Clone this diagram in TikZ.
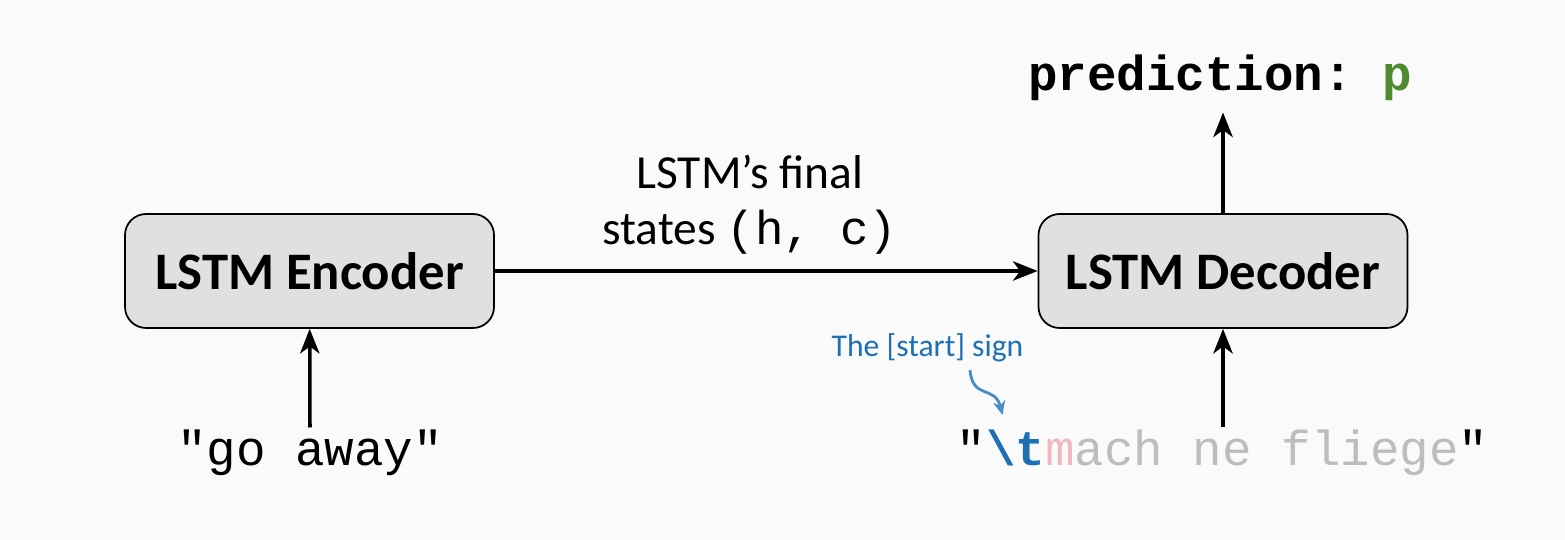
\documentclass[tikz,border=0pt]{standalone}
\usepackage{fontspec}
\setmainfont{Carlito}
\setmonofont{Liberation Mono}
\usetikzlibrary{positioning,arrows.meta}
\definecolor{bgcol}{HTML}{FAFAFA}
\definecolor{boxcol}{HTML}{E0E0E0}
\definecolor{signblue}{HTML}{1F6FB5}
\definecolor{predgreen}{HTML}{4E8A2E}
\definecolor{fadegray}{HTML}{BDBDBD}
\definecolor{fadepink}{HTML}{F2B8C0}
\tikzset{
  block/.style={draw, line width=1pt, rounded corners=12pt, fill=boxcol,
    minimum width=7.38cm, minimum height=2.28cm,
    font=\fontsize{30}{36}\selectfont\bfseries},
  flow/.style={-{Stealth[length=14pt, width=11pt, inset=4pt]}, line width=2pt},
  words/.style={font=\fontsize{28}{34}\selectfont\ttfamily}
}
\begin{document}
\begin{tikzpicture}
\fill[bgcol] (0,0) rectangle (31.3,10.8);
\useasboundingbox (0,0) rectangle (31.3,10.8);

\node at (6.19, 5.38)[block](ENC){LSTM Encoder};
\node at (24.46, 5.38)[block](DEC){LSTM Decoder};
\draw[flow] (ENC) -- (DEC);
\node at (15.0, 6.7)[align=center, font=\fontsize{27}{32}\selectfont](ST){LSTM’s final\\states \texttt{(h, c)}};

\node at (6.2, 1.75)[words](GO){"go away"};
\coordinate (GOin) at (6.2, 2.25);
\draw[flow] (GOin) -- (ENC);

\node at (24.45, 1.75)[words](MACH){"{\color{signblue}\bfseries\textbackslash t}{\color{fadepink}m}{\color{fadegray}ach ne fliege}"};
\coordinate (DECin) at (24.46, 2.25);
\draw[flow] (DECin) -- (DEC);

\node at (24.4, 9.25)[words, font=\fontsize{28}{34}\selectfont\ttfamily\bfseries](PRED){prediction: {\color{predgreen}p}};
\coordinate (PREDin) at (24.46, 8.55);
\draw[flow] (DEC) -- (PREDin);

\node at (18.55, 3.84)[text=signblue, font=\fontsize{18}{22}\selectfont](SIGN){The [start] sign};
\coordinate (Tmark) at (20.05, 2.5);
\draw[-{Stealth[length=8pt, width=7pt]}, signblue!80, line width=1.6pt] (19.4, 3.4) .. controls (19.45, 2.8) and (19.9, 3.1) .. (Tmark);
\end{tikzpicture}
\end{document}
